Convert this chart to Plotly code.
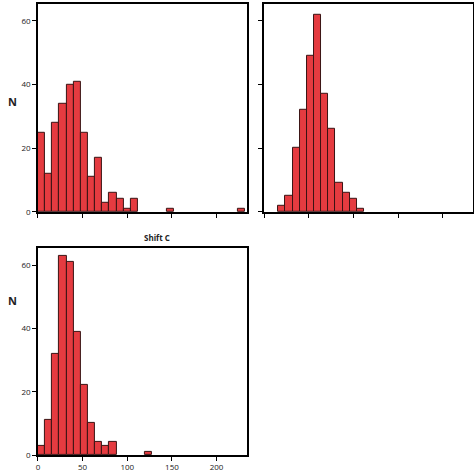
import plotly.graph_objects as go

bin_width = 8
counts_a = [25, 12, 28, 34, 40, 41, 25, 11, 17, 3, 6, 4, 1, 4, 0, 0, 0, 0, 1, 0, 0, 0, 0, 0, 0, 0, 0, 0, 1]
counts_b = [0, 0, 2, 5, 20, 32, 49, 62, 37, 26, 9, 6, 4, 1]
counts_c = [3, 11, 32, 63, 61, 39, 22, 10, 4, 3, 4, 0, 0, 0, 0, 1]
title_c = "Shift C"
y_label = "N"
x_ticks = [0, 50, 100, 150, 200]
y_ticks = [0, 20, 40, 60]

def centers(c):
    return [i * bin_width + bin_width / 2 for i in range(len(c))]

def nz(c):
    return [v if v > 0 else None for v in c]

fill = "#e53b40"
edge = "#3a1414"
fig = go.Figure()
for c, xa, ya in [(counts_a, "x", "y"), (counts_b, "x2", "y2"), (counts_c, "x3", "y3")]:
    fig.add_trace(go.Bar(x=centers(c), y=nz(c), width=bin_width, xaxis=xa, yaxis=ya,
                         marker=dict(color=fill, line=dict(color=edge, width=1)),
                         showlegend=False))

axstyle = dict(showline=True, mirror=True, linecolor="black", linewidth=1.5, ticks="outside",
               ticklen=4, tickcolor="black", showgrid=False, zeroline=False, automargin=False,
               tickfont=dict(family="Open Sans", size=8, color="#222"))
xr = [0, 234]
yr = [0, 65.4]
fig.update_layout(
    width=474, height=474, margin=dict(l=0, r=0, t=0, b=0),
    plot_bgcolor="white", paper_bgcolor="white", bargap=0,
    xaxis=dict(domain=[0.080, 0.521], range=xr, tickvals=x_ticks, showticklabels=False, anchor="y", **axstyle),
    yaxis=dict(domain=[0.553, 0.992], range=yr, tickvals=y_ticks, anchor="x", **axstyle),
    xaxis2=dict(domain=[0.557, 0.998], range=xr, tickvals=x_ticks, showticklabels=False, anchor="y2", **axstyle),
    yaxis2=dict(domain=[0.553, 0.992], range=yr, tickvals=y_ticks, showticklabels=False, anchor="x2", **axstyle),
    xaxis3=dict(domain=[0.080, 0.521], range=xr, tickvals=x_ticks, anchor="y3", **axstyle),
    yaxis3=dict(domain=[0.040, 0.477], range=yr, tickvals=y_ticks, anchor="x3", **axstyle),
    annotations=[
        dict(text="<b>" + y_label + "</b>", x=0.012, y=0.806, xref="paper", yref="paper", showarrow=False,
             font=dict(family="Open Sans", size=11, color="#222")),
        dict(text="<b>" + y_label + "</b>", x=0.012, y=0.366, xref="paper", yref="paper", showarrow=False,
             font=dict(family="Open Sans", size=11, color="#222")),
        dict(text="<b>" + title_c + "</b>", x=0.30, y=0.500, xref="paper", yref="paper", showarrow=False,
             font=dict(family="Open Sans", size=8, color="#222")),
    ],
)
fig.write_html("out.html", config={"displayModeBar": False},
               post_script="document.body.style.margin='0';document.body.style.overflow='hidden';")
